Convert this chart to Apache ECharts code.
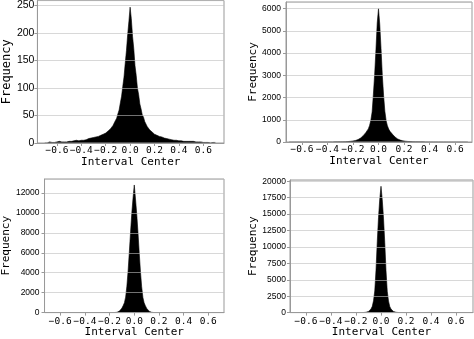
<!DOCTYPE html>
<html>
<head>
<meta charset="utf-8">
<script src="https://cdn.jsdelivr.net/npm/echarts@6/dist/echarts.min.js"></script>
<style>
html,body{margin:0;padding:0;background:#fff;}
#c{width:474px;height:339px;}
</style>
</head>
<body>
<div id="c"></div>
<script>
// Bin centers (shared by all four histograms)
var binCenters = [
-0.70,-0.69,-0.68,-0.67,-0.66,-0.65,-0.64,-0.63,-0.62,-0.61,
-0.60,-0.59,-0.58,-0.57,-0.56,-0.55,-0.54,-0.53,-0.52,-0.51,
-0.50,-0.49,-0.48,-0.47,-0.46,-0.45,-0.44,-0.43,-0.42,-0.41,
-0.40,-0.39,-0.38,-0.37,-0.36,-0.35,-0.34,-0.33,-0.32,-0.31,
-0.30,-0.29,-0.28,-0.27,-0.26,-0.25,-0.24,-0.23,-0.22,-0.21,
-0.20,-0.19,-0.18,-0.17,-0.16,-0.15,-0.14,-0.13,-0.12,-0.11,
-0.10,-0.09,-0.08,-0.07,-0.06,-0.05,-0.04,-0.03,-0.02,-0.01,
0.00,
0.01,0.02,0.03,0.04,0.05,0.06,0.07,0.08,0.09,0.10,
0.11,0.12,0.13,0.14,0.15,0.16,0.17,0.18,0.19,0.20,
0.21,0.22,0.23,0.24,0.25,0.26,0.27,0.28,0.29,0.30,
0.31,0.32,0.33,0.34,0.35,0.36,0.37,0.38,0.39,0.40,
0.41,0.42,0.43,0.44,0.45,0.46,0.47,0.48,0.49,0.50,
0.51,0.52,0.53,0.54,0.55,0.56,0.57,0.58,0.59,0.60,
0.61,0.62,0.63,0.64,0.65,0.66,0.67,0.68,0.69,0.70
];

// Frequencies, panel 1 (top-left)
var freq1 = [
0,1,0,1,2,1,1,2,1,2,
2,1,3,2,2,3,2,3,2,3,
3,4,3,3,4,3,5,4,4,6,
5,6,5,7,6,7,8,7,9,8,
10,9,11,10,12,12,14,13,16,15,
18,19,22,23,26,28,32,35,41,45,
53,60,73,85,103,120,145,168,197,221,
247,
226,194,172,141,123,100,88,71,62,51,
47,39,36,30,29,24,23,20,19,16,
16,14,14,12,12,11,11,9,10,8,
9,7,8,6,7,5,6,5,5,4,
5,4,4,3,4,3,3,3,2,3,
2,3,2,2,2,2,1,2,2,1,
2,1,1,1,1,0,1,1,0,1
];

// Frequencies, panel 2 (top-right)
var freq2 = [
0,0,0,0,0,1,1,1,1,1,
1,1,1,1,1,2,2,2,2,2,
2,2,2,2,3,3,3,3,3,4,
4,4,5,5,5,6,6,7,7,8,
9,10,11,13,15,18,21,25,30,37,
45,56,70,88,110,140,180,225,285,350,
420,490,590,740,980,1350,2150,3050,4150,5350,
6000,
5300,4200,3000,2100,1380,960,730,580,480,415,
345,280,222,178,138,108,86,69,55,44,
36,30,25,21,18,15,13,11,10,9,
8,7,7,6,6,5,5,5,4,4,
4,3,3,3,3,3,2,2,2,2,
2,2,2,2,1,1,1,1,1,1,
1,1,1,1,1,0,0,0,0,0
];

// Frequencies, panel 3 (bottom-left)
var freq3 = [
0,0,0,0,0,0,0,0,0,0,
0,0,0,0,0,0,0,0,0,0,
0,0,0,0,0,0,0,0,0,0,
0,0,0,0,0,1,1,1,1,1,
0,0,1,1,1,1,1,1,1,1,
1,2,3,5,8,15,30,60,150,280,
450,700,1000,1550,2650,4200,6100,8100,10000,11500,
12800,
11400,9900,8050,6050,4150,2600,1520,980,690,440,
270,145,58,29,14,8,5,3,2,1,
1,1,1,1,1,1,1,0,0,0,
0,0,0,0,0,0,0,0,0,0,
0,0,0,0,0,0,0,0,0,0,
0,0,0,0,0,0,0,0,0,0,
0,0,0,0,0,0,0,0,0,0
];

// Frequencies, panel 4 (bottom-right)
var freq4 = [
0,0,0,0,0,0,0,0,0,0,
0,0,0,0,0,0,0,0,0,0,
0,0,0,0,0,0,0,0,0,0,
0,0,0,0,0,0,0,0,0,0,
0,0,0,0,0,0,1,1,1,1,
1,1,1,2,4,7,12,25,50,100,
180,300,550,950,1800,3300,6500,10800,14500,17300,
19250,
17200,14400,10700,6400,3250,1780,940,540,295,175,
98,48,24,12,7,4,2,1,1,1,
1,1,1,1,0,0,0,0,0,0,
0,0,0,0,0,0,0,0,0,0,
0,0,0,0,0,0,0,0,0,0,
0,0,0,0,0,0,0,0,0,0,
0,0,0,0,0,0,0,0,0,0
];

var xTicks = [-0.6,-0.4,-0.2,0.0,0.2,0.4,0.6];
var xName = 'Interval Center';
var yName = 'Frequency';

var panels = [
  {data: freq1, grid:{left:34,top:0,width:190,height:143}, xmin:-0.76, xmax:0.77, ymax:259, yint:50,
   yFont:10.5, yMargin:3, yNameGap:21, yNameFont:12, xLabelMargin:3, xNameGap:13},
  {data: freq2, grid:{left:286,top:2,width:186,height:140}, xmin:-0.725, xmax:0.733, ymax:6300, yint:1000,
   yFont:8.5, yMargin:5, yNameGap:26, yNameFont:11, xLabelMargin:3, xNameGap:13},
  {data: freq3, grid:{left:42,top:179,width:182,height:135}, xmin:-0.728, xmax:0.728, ymax:13400, yint:2000,
   yFont:8.5, yMargin:5, yNameGap:31, yNameFont:11, xLabelMargin:3.5, xNameGap:13},
  {data: freq4, grid:{left:290,top:180,width:183,height:135}, xmin:-0.728, xmax:0.736, ymax:20200, yint:2500,
   yFont:8.5, yMargin:4, yNameGap:30, yNameFont:11, xLabelMargin:3.5, xNameGap:13}
];

function fmtX(v){
  var a = Math.abs(v).toFixed(1);
  return (v < -1e-9 ? '\u2212' : '') + a;
}
function fmtY(v){ return String(Math.round(v)); }

var grids = [], xAxes = [], yAxes = [], series = [];
panels.forEach(function(p, i){
  grids.push({left:p.grid.left, top:p.grid.top, width:p.grid.width, height:p.grid.height,
    show:true, borderColor:'#999', borderWidth:1, backgroundColor:'transparent', containLabel:false});
  xAxes.push({
    type:'value', gridIndex:i, min:p.xmin, max:p.xmax,
    name:xName, nameLocation:'middle', nameGap:p.xNameGap,
    nameTextStyle:{fontFamily:'DejaVu Sans Mono', fontSize:11, color:'#000'},
    axisLine:{show:true, onZero:false, lineStyle:{color:'#999', width:1}},
    axisTick:{show:true, length:3, lineStyle:{color:'#999'}, customValues:xTicks},
    axisLabel:{fontFamily:'DejaVu Sans Mono', fontSize:9.5, color:'#000', margin:p.xLabelMargin,
      customValues:xTicks, formatter:fmtX},
    splitLine:{show:false}
  });
  yAxes.push({
    type:'value', gridIndex:i, min:0, max:p.ymax, interval:p.yint,
    name:yName, nameLocation:'middle', nameGap:p.yNameGap,
    nameTextStyle:{fontFamily:'DejaVu Sans Mono', fontSize:p.yNameFont, color:'#000'},
    axisLine:{show:true, onZero:false, lineStyle:{color:'#999', width:1}},
    axisTick:{show:true, length:3, lineStyle:{color:'#999'}},
    axisLabel:{fontFamily:'Liberation Sans', fontSize:p.yFont, color:'#000', margin:p.yMargin,
      showMaxLabel:false, formatter:fmtY},
    splitLine:{show:true, lineStyle:{color:'rgba(190,190,190,0.6)', width:1}}
  });
  var pts = binCenters.map(function(x, k){ return [x, p.data[k]]; });
  series.push({
    type:'line', xAxisIndex:i, yAxisIndex:i, data:pts, showSymbol:false, symbol:'none',
    z:-1, silent:true, animation:false,
    lineStyle:{color:'#000', width:0.6},
    areaStyle:{color:'#000', opacity:1}
  });
});

var chart = echarts.init(document.getElementById('c'), null, {renderer:'canvas'});
chart.setOption({
  animation:false,
  backgroundColor:'#fff',
  grid:grids, xAxis:xAxes, yAxis:yAxes, series:series
});
</script>
</body>
</html>
